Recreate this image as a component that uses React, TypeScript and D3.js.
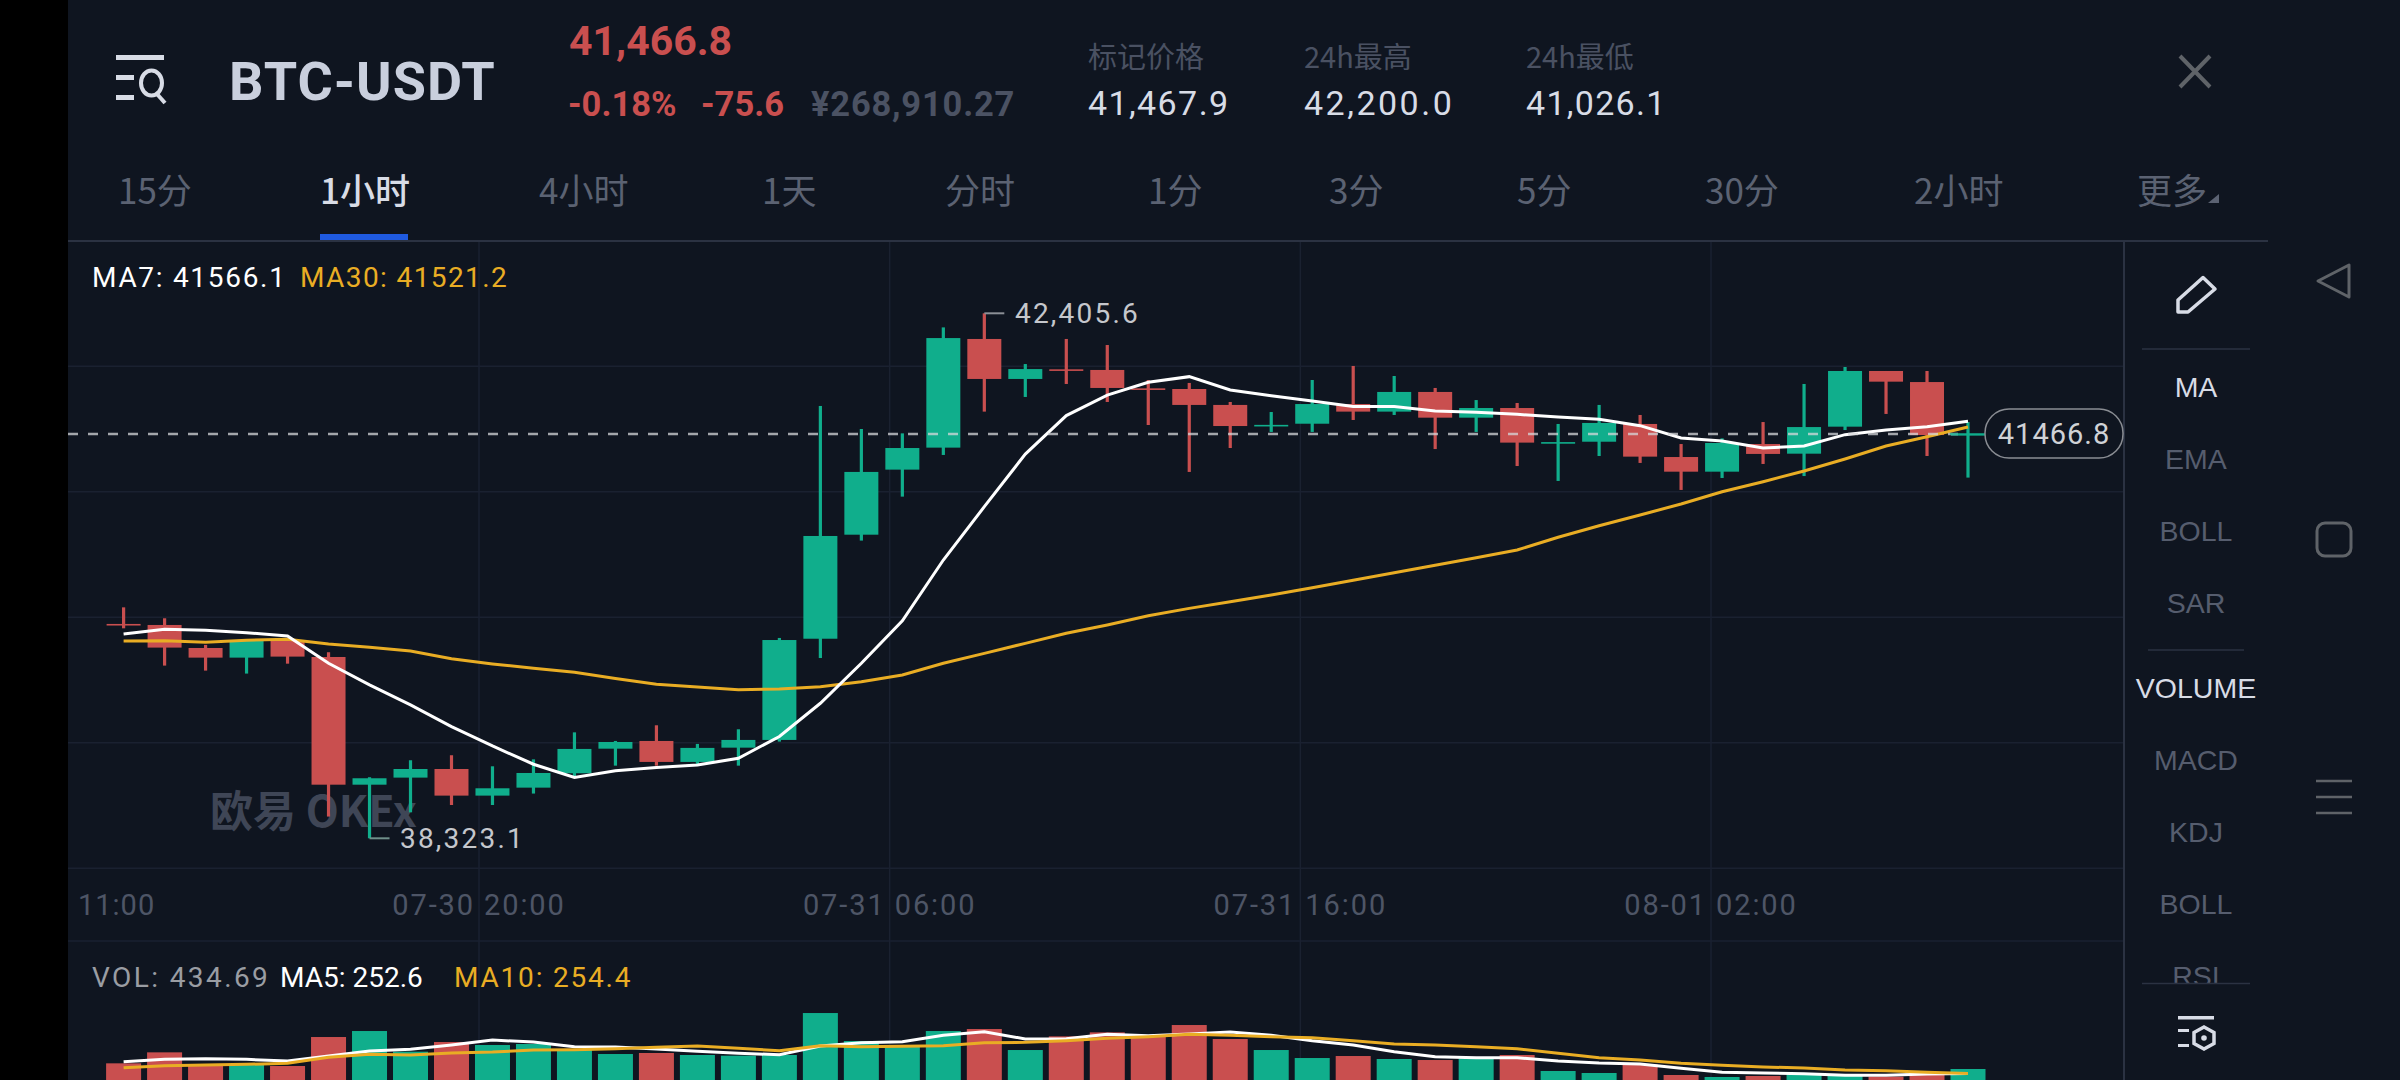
import React from "react";
import * as d3 from "d3";

const opens = [39990,39982,39803,39728,39858,39733,38740,38795,38862,38655,38717,38829,39020,39080,38917,39028,39088,39875,40684,41190,41361,42206,41895,41970,41965,41822,41817,41693,41535,41547,41700,41641,41794,41594,41669,41400,41407,41545,41288,41174,41389,41314,41524,41957,41871,41462];
const closes = [39985,39806,39728,39858,39736,38740,38790,38862,38655,38712,38831,39018,39072,38917,39026,39088,39865,40674,41172,41358,42213,41895,41972,41968,41825,41820,41693,41529,41538,41700,41641,41794,41594,41669,41400,41404,41553,41291,41174,41397,41312,41521,41957,41874,41459,41466.8];
const highs = [40119,40034,39827,39862,39866,39770,38798,38930,38969,38883,38937,39147,39080,39202,39057,39171,39881,41685,41506,41472,42296,42405.6,42011,42206,42159,41887,41864,41716,41638,41887,41996,41918,41825,41731,41708,41545,41693,41615,41389,41433,41560,41856,41988,41957,41957,41560];
const lows = [39956,39666,39627,39604,39681,38492,38323.1,38525,38582,38582,38671,38803,38888,38888,38901,38888,39075,39725,40638,40980,41304,41641,41755,41856,41716,41537,41172,41358,41483,41483,41576,41615,41350,41483,41218,41102,41296,41242,41032,41125,41234,41140,41498,41623,41296,41128];
const ma7 = [39912,39948,39941,39922,39897,39684,39516,39360,39192,39041,38899,38797,38849,38873,38893,38945,39115,39373,39684,40015,40487,40902,41311,41610,41770,41869,41913,41809,41765,41724,41680,41680,41646,41636,41620,41599,41581,41532,41436,41413,41358,41374,41462,41498,41524,41566.1];
const ma30 = [39858,39860,39847,39863,39871,39834,39808,39780,39720,39679,39645,39614,39565,39521,39500,39479,39484,39502,39541,39593,39684,39761,39839,39917,39982,40054,40111,40163,40215,40272,40330,40388,40446,40505,40565,40664,40754,40837,40923,41018,41096,41179,41273,41374,41446,41521.2];
const volumes = [659,1093,600,632,553,1699,1936,1119,1501,1383,1422,1185,1027,1067,988,961,988,2647,1541,1317,1936,2015,1185,1725,1883,1738,2173,1620,1185,869,948,830,790,856,988,356,277,619,198,119,158,237,158,132,198,434.69];
const volMa5 = [724,817,843,817,751,948,1146,1212,1383,1580,1501,1317,1304,1225,1133,1054,1001,1343,1475,1515,1765,1910,1620,1633,1804,1752,1817,1896,1765,1554,1383,1119,922,882,882,751,672,632,461,303,277,250,184,184,237,252.6];
const volMa10 = [487,566,593,619,659,896,1014,988,1067,1106,1185,1198,1238,1291,1343,1251,1159,1357,1317,1330,1357,1475,1488,1554,1646,1712,1804,1765,1712,1673,1554,1422,1383,1317,1238,1054,882,790,659,579,514,474,395,369,303,254.4];

const timeLabels = ["07-30 20:00", "07-31 06:00", "07-31 16:00", "08-01 02:00"];
const firstTimeLabel = "11:00";
const tabLabels = ["15分", "1小时", "4小时", "1天", "分时", "1分", "3分", "5分", "30分", "2小时", "更多"];
const mainIndicators = ["MA", "EMA", "BOLL", "SAR"];
const subIndicators = ["VOLUME", "MACD", "KDJ", "BOLL", "RSI"];
const lastPrice = 41466.8;

const BG = "#0f1520";
const RED = "#c94f4f";
const TEAL = "#10ae8c";
const GOLD = "#e9ad24";
const GRID = "#1a2130";
const RULE = "#2b3242";
const DIM = "#565d6e";
const LIGHT = "#d8dce6";
const SANS = "Roboto, 'Noto Sans CJK SC', sans-serif";
const CJK = "'Noto Sans CJK SC', Roboto, sans-serif";
const ARIAL = "'Liberation Sans', sans-serif";

const tabX = [118, 320, 539, 762, 945, 1148, 1329, 1517, 1705, 1914, 2137];
const mainY = [397, 469, 541, 613];
const subY = [698, 770, 842, 914, 986];

export default function App() {
  const x = d3.scaleLinear().domain([0, opens.length - 1]).range([123.6, 1968]);
  const y = d3.scaleLinear().domain([38323.1, 42405.6]).range([838.3, 313.3]);
  const v = d3.scaleLinear().domain([0, 1000]).range([1080, 1054.7]);
  const gridX = d3.scaleLinear().domain([0, 3]).range([479, 1711]);
  const gridY = d3.scaleLinear().domain([0, 4]).range([366.3, 868.3]);

  const priceLine = d3.line<number>().x((_, i) => x(i)).y((d) => y(d));
  const volLine = d3.line<number>().x((_, i) => x(i)).y((d) => v(d));
  const bodyW = 34;
  const volW = 35;
  const lastY = y(lastPrice);

  return (
    <svg
      width={2400}
      height={1080}
      viewBox="0 0 2400 1080"
      style={{ position: "fixed", left: 0, top: 0, display: "block" }}
    >
      <rect x={0} y={0} width={2400} height={1080} fill={BG} />
      <rect x={0} y={0} width={68} height={1080} fill="#000" />

      {/* header */}
      <g fill={LIGHT}>
        <rect x={116} y={55} width={48} height={5} />
        <rect x={116} y={75} width={18} height={5} />
        <rect x={116} y={95} width={18} height={5} />
      </g>
      <ellipse cx={151.5} cy={83} rx={10.5} ry={12.5} fill="none" stroke={LIGHT} strokeWidth={4} />
      <line x1={157} y1={94} x2={165} y2={103} stroke={LIGHT} strokeWidth={4} />
      <text x={229} y={100} fontFamily={SANS} fontWeight={700} fontSize={54} letterSpacing={1} fill="#c9cfdd">BTC-USDT</text>
      <text x={569} y={55} fontFamily={SANS} fontWeight={700} fontSize={41} fill={RED}>41,466.8</text>
      <text x={568} y={116} fontFamily={SANS} fontWeight={700} fontSize={34.5} fill={RED}>-0.18%</text>
      <text x={701} y={116} fontFamily={SANS} fontWeight={700} fontSize={34.5} fill={RED}>-75.6</text>
      <text x={811} y={116} fontFamily={SANS} fontWeight={700} fontSize={34.5} letterSpacing={0.8} fill="#4b5263">¥268,910.27</text>
      <text x={1088} y={68} fontFamily={CJK} fontSize={29} fill="#4a5162">标记价格</text>
      <text x={1088} y={115} fontFamily={SANS} fontSize={34} letterSpacing={1.4} fill={LIGHT}>41,467.9</text>
      <text x={1304} y={68} fontFamily={CJK} fontSize={29} fill="#4a5162">24h最高</text>
      <text x={1304} y={115} fontFamily={SANS} fontSize={34} letterSpacing={2.5} fill={LIGHT}>42,200.0</text>
      <text x={1526} y={68} fontFamily={CJK} fontSize={29} fill="#4a5162">24h最低</text>
      <text x={1526} y={115} fontFamily={SANS} fontSize={34} letterSpacing={1.3} fill={LIGHT}>41,026.1</text>
      <path d="M2180 56 L2210 87 M2210 56 L2180 87" stroke="#5f6368" strokeWidth={4} fill="none" />

      {/* tabs */}
      {tabLabels.map((t, i) => (
        <text key={t} x={tabX[i]} y={204} fontFamily={CJK} fontSize={35} fontWeight={i === 1 ? 500 : 400} fill={i === 1 ? LIGHT : "#5b6272"}>{t}</text>
      ))}
      <path d="M2208 203 L2219 203 L2219 194 Z" fill="#5b6272" />
      <rect x={320} y={234} width={88} height={6} fill="#1f5ae0" />
      <line x1={68} y1={241} x2={2268} y2={241} stroke={RULE} strokeWidth={2} />

      {/* grid */}
      {d3.range(5).map((k) => (
        <line key={k} x1={68} x2={2124} y1={gridY(k)} y2={gridY(k)} stroke={GRID} strokeWidth={1.5} />
      ))}
      <line x1={68} x2={2124} y1={941} y2={941} stroke={GRID} strokeWidth={1.5} />
      {d3.range(4).map((k) => (
        <line key={k} x1={gridX(k)} x2={gridX(k)} y1={242} y2={1080} stroke={GRID} strokeWidth={1.5} />
      ))}
      <line x1={2124} x2={2124} y1={241} y2={1080} stroke={RULE} strokeWidth={2} />

      {/* legend */}
      <text x={92} y={287} fontFamily={SANS} fontSize={28} letterSpacing={1.7} fill="#fff">MA7: 41566.1</text>
      <text x={300} y={287} fontFamily={SANS} fontSize={28} letterSpacing={1.4} fill={GOLD}>MA30: 41521.2</text>

      {/* watermark */}
      <text x={210} y={827} fontFamily={CJK} fontWeight={700} fontSize={43} fill="#3f4656">欧易 OKEx</text>

      {/* candles */}
      {opens.map((o, i) => {
        const c = closes[i];
        const col = c >= o ? TEAL : RED;
        const top = Math.min(y(o), y(c));
        const h = Math.abs(y(o) - y(c));
        return (
          <g key={i} fill={col}>
            <rect x={x(i) - 1.6} y={y(highs[i])} width={3.2} height={y(lows[i]) - y(highs[i])} />
            <rect x={x(i) - bodyW / 2} y={top} width={bodyW} height={Math.max(h, 1.6)} />
          </g>
        );
      })}

      {/* high / low annotations */}
      <line x1={x(21)} x2={x(21) + 20} y1={y(42405.6)} y2={y(42405.6)} stroke="#8b8f96" strokeWidth={2} />
      <text x={1015} y={323} fontFamily={SANS} fontSize={28} letterSpacing={2.2} fill="#c5c7cc">42,405.6</text>
      <line x1={x(6)} x2={x(6) + 20} y1={y(38323.1)} y2={y(38323.1)} stroke="#6f8f8a" strokeWidth={2} />
      <text x={400} y={848} fontFamily={SANS} fontSize={28} letterSpacing={2.2} fill="#c5c7cc">38,323.1</text>

      {/* moving averages */}
      <path d={priceLine(ma30) ?? ""} fill="none" stroke={GOLD} strokeWidth={3} />
      <path d={priceLine(ma7) ?? ""} fill="none" stroke="#fff" strokeWidth={3} />

      {/* last price */}
      <line x1={68} x2={x(45) - 8} y1={lastY} y2={lastY} stroke="#d6d7da" strokeOpacity={0.75} strokeWidth={2.5} strokeDasharray="10 10" />
      <line x1={x(45) - 18} x2={1985} y1={lastY} y2={lastY} stroke={TEAL} strokeWidth={1.5} />
      <rect x={1985} y={409} width={138} height={49} rx={24} fill={BG} stroke="#8a8d93" strokeWidth={1.5} />
      <text x={2054} y={444} textAnchor="middle" fontFamily={SANS} fontSize={29} letterSpacing={1} fill="#d0d2d6">41466.8</text>

      {/* time axis */}
      <text x={78} y={915} fontFamily={SANS} fontSize={29} letterSpacing={1} fill="#4e5566">{firstTimeLabel}</text>
      {timeLabels.map((t, k) => (
        <text key={t} x={gridX(k)} y={915} textAnchor="middle" fontFamily={SANS} fontSize={29} letterSpacing={1.9} fill="#4e5566">{t}</text>
      ))}

      {/* volume */}
      <text x={92} y={987} fontFamily={SANS} fontSize={28} letterSpacing={2.4} fill="#9a9da3">VOL: 434.69</text>
      <text x={280} y={987} fontFamily={SANS} fontSize={28} fill="#fff">MA5: 252.6</text>
      <text x={454} y={987} fontFamily={SANS} fontSize={28} letterSpacing={1.8} fill={GOLD}>MA10: 254.4</text>
      {volumes.map((d, i) => (
        <rect key={i} x={x(i) - volW / 2} y={v(d)} width={volW} height={v(0) - v(d)} fill={closes[i] >= opens[i] ? TEAL : RED} />
      ))}
      <path d={volLine(volMa5) ?? ""} fill="none" stroke="#fff" strokeWidth={3} />
      <path d={volLine(volMa10) ?? ""} fill="none" stroke={GOLD} strokeWidth={3} />

      {/* side panel */}
      <path d="M2178 300 L2203 277.5 L2215 289 L2188 312 L2178 312 Z" fill="none" stroke={LIGHT} strokeWidth={3.5} strokeLinejoin="round" />
      <line x1={2142} x2={2250} y1={349} y2={349} stroke={RULE} strokeWidth={1.5} />
      {mainIndicators.map((t, i) => (
        <text key={t} x={2196} y={mainY[i]} textAnchor="middle" fontFamily={ARIAL} fontSize={28.5} fill={i === 0 ? LIGHT : DIM}>{t}</text>
      ))}
      <line x1={2148} x2={2244} y1={650} y2={650} stroke={RULE} strokeWidth={1.5} />
      <clipPath id="sideClip"><rect x={2130} y={640} width={130} height={343} /></clipPath>
      <g clipPath="url(#sideClip)">
        {subIndicators.map((t, i) => (
          <text key={t + i} x={2196} y={subY[i]} textAnchor="middle" fontFamily={ARIAL} fontSize={28.5} fill={i === 0 ? LIGHT : DIM}>{t}</text>
        ))}
      </g>
      <line x1={2142} x2={2250} y1={983.5} y2={983.5} stroke={RULE} strokeWidth={1.5} />
      <g fill={LIGHT}>
        <rect x={2178} y={1016} width={36} height={3.5} />
        <rect x={2178} y={1029} width={11} height={3} />
        <rect x={2178} y={1044} width={11} height={3} />
      </g>
      <path d="M2204 1027 L2214 1032.5 L2214 1043.5 L2204 1049 L2194 1043.5 L2194 1032.5 Z" fill="none" stroke={LIGHT} strokeWidth={3.5} />
      <circle cx={2204} cy={1038} r={2.8} fill={LIGHT} />

      {/* system navigation */}
      <path d="M2318 281 L2349 265 L2349 297 Z" fill="none" stroke="#5f6368" strokeWidth={3} strokeLinejoin="round" />
      <rect x={2317} y={523} width={34} height={33} rx={8} fill="none" stroke="#5f6368" strokeWidth={3} />
      <g stroke="#5f6368" strokeWidth={2.5}>
        <line x1={2316} x2={2352} y1={781} y2={781} />
        <line x1={2316} x2={2352} y1={797} y2={797} />
        <line x1={2316} x2={2352} y1={813} y2={813} />
      </g>
    </svg>
  );
}
